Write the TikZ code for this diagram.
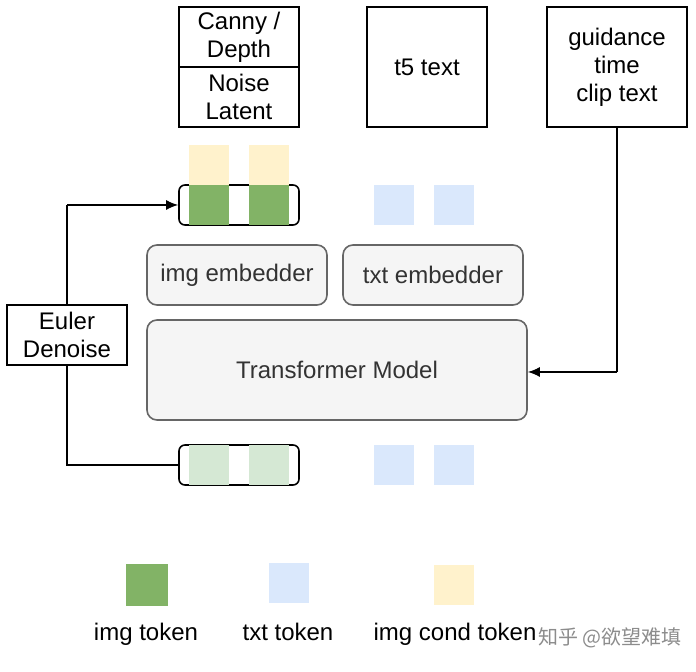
\documentclass[tikz,border=0pt]{standalone}
\usepackage{fontspec}
\setmainfont{Liberation Sans}
\newfontfamily\cjk{Noto Sans CJK SC}
\usetikzlibrary{positioning,arrows.meta}
\definecolor{imgtok}{HTML}{82B366}
\definecolor{imgtoklight}{HTML}{D5E8D4}
\definecolor{txttok}{HTML}{DAE8FC}
\definecolor{condtok}{HTML}{FFF2CC}
\tikzset{
  every node/.style={font=\large},
  inbox/.style={draw,thick,minimum width=60pt,align=center,inner sep=0pt},
  embed/.style={draw=black!60,fill=black!4,rounded corners=5pt,thick,text=black!80},
  tok/.style={minimum size=20pt,inner sep=0pt},
  seq/.style={draw,thick,rounded corners=3pt,minimum width=60pt,minimum height=20pt,inner sep=0pt},
  flow/.style={thick,-{Latex[length=6pt,width=5pt]}},
}
\begin{document}
\begin{tikzpicture}[x=0.5pt,y=-0.5pt]
  \useasboundingbox (0,0) rectangle (696,672);
  % inputs
  \node[inbox,minimum height=30pt] (canny) at (239,37) {Canny /\\Depth};
  \node[inbox,minimum height=30pt] (noise) at (239,97) {Noise\\Latent};
  \node[inbox,minimum height=60pt] (t5) at (427,67) {t5 text};
  \node[inbox,minimum width=70pt,minimum height=60pt] (guide) at (617,67) {guidance\\time\\clip text};
  % tokens in
  \node[seq] (seqin) at (239,205) {};
  \node[tok,fill=condtok] (c1) at (209,165) {};
  \node[tok,fill=condtok] (c2) at (269,165) {};
  \node[tok,fill=imgtok] (g1) at (209,205) {};
  \node[tok,fill=imgtok] (g2) at (269,205) {};
  \node[tok,fill=txttok] (t1) at (394,205) {};
  \node[tok,fill=txttok] (t2) at (454,205) {};
  % model
  \node[embed,minimum width=90pt,minimum height=30pt] (imgemb) at (237,275) {img embedder};
  \node[embed,minimum width=90pt,minimum height=30pt] (txtemb) at (433,275) {txt embedder};
  \node[embed,minimum width=190pt,minimum height=50pt] (model) at (337,370) {Transformer Model};
  % tokens out
  \node[seq] (seqout) at (239,465) {};
  \node[tok,fill=imgtoklight] (o1) at (209,465) {};
  \node[tok,fill=imgtoklight] (o2) at (269,465) {};
  \node[tok,fill=txttok] (t3) at (394,465) {};
  \node[tok,fill=txttok] (t4) at (454,465) {};
  % loop
  \coordinate (lb) at (67,465);
  \coordinate (lt) at (67,205);
  \draw[thick] (seqout.west) -- (lb) -- (lt);
  \draw[flow] (lt) -- (seqin.west);
  \node[inbox,fill=white,minimum height=30pt] (euler) at (67,335) {Euler\\Denoise};
  \coordinate (gc) at (617,372);
  \draw[thick] (guide.south) -- (gc);
  \draw[flow] (gc) -- (model.east |- gc);
  % legend
  \node[tok,fill=imgtok,minimum size=21pt] (limg) at (147,585) {};
  \node[tok,fill=txttok] (ltxt) at (289,583) {};
  \node[tok,fill=condtok] (lcond) at (454,585) {};
  \node (limgl) at (146,634) {img token};
  \node (ltxtl) at (288,632) {txt token};
  \node (lcondl) at (455,634) {img cond token};
  \node[text=black!45,font=\cjk] (mark) at (610,638) {知乎 @欲望难填};
\end{tikzpicture}
\end{document}
